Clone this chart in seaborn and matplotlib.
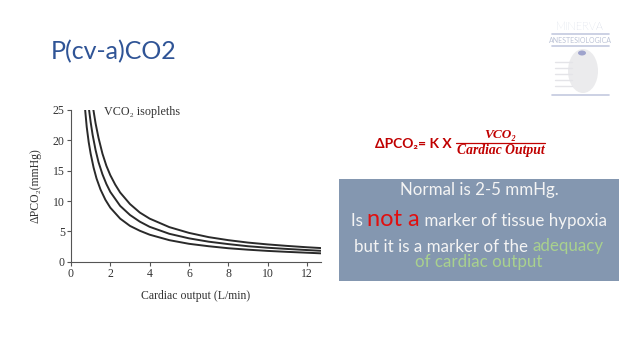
import matplotlib
matplotlib.use("Agg")
import matplotlib.pyplot as plt
import matplotlib.patches as mpatches
from matplotlib.lines import Line2D
import pandas as pd
import seaborn as sns

# VCO2 isopleths (cardiac output L/min -> delta PCO2 mmHg)
low_x = [0.72, 0.8, 0.9, 1.0, 1.15, 1.3, 1.5, 1.75, 2.0, 2.5, 3.0, 3.5, 4.0,
         5.0, 6.0, 7.0, 8.0, 9.0, 10.0, 11.0, 12.0, 12.7]
low_y = [25, 22.2, 19.7, 17.8, 15.5, 13.7, 11.9, 10.2, 8.9, 7.1, 5.9, 5.1, 4.45,
         3.55, 2.95, 2.55, 2.22, 1.98, 1.78, 1.62, 1.48, 1.38]
mid_x = [0.92, 1.0, 1.1, 1.25, 1.4, 1.6, 1.8, 2.0, 2.5, 3.0, 3.5, 4.0,
         5.0, 6.0, 7.0, 8.0, 9.0, 10.0, 11.0, 12.0, 12.7]
mid_y = [25, 23, 20.9, 18.4, 16.4, 14.4, 12.8, 11.5, 9.2, 7.7, 6.6, 5.75,
         4.6, 3.85, 3.3, 2.9, 2.55, 2.3, 2.1, 1.92, 1.8]
high_x = [1.14, 1.25, 1.4, 1.6, 1.8, 2.0, 2.25, 2.5, 3.0, 3.5, 4.0,
          5.0, 6.0, 7.0, 8.0, 9.0, 10.0, 11.0, 12.0, 12.7]
high_y = [25, 22.8, 20.4, 17.8, 15.8, 14.25, 12.7, 11.4, 9.5, 8.1, 7.1,
          5.7, 4.75, 4.05, 3.55, 3.15, 2.85, 2.6, 2.38, 2.25]

x_ticks = [0, 2, 4, 6, 8, 10, 12]
y_ticks = [0, 5, 10, 15, 20, 25]

W, H = 638, 359
SANS = ["Lato", "DejaVu Sans"]
SERIF = ["Liberation Serif", "DejaVu Serif"]
RED = "#C00000"


def fx(x):
    return x / W


def fy(y):
    return 1 - y / H


df = pd.concat([
    pd.DataFrame({"co": low_x, "dpco2": low_y, "curve": "low"}),
    pd.DataFrame({"co": mid_x, "dpco2": mid_y, "curve": "mid"}),
    pd.DataFrame({"co": high_x, "dpco2": high_y, "curve": "high"}),
])

sns.set_style("ticks")
fig = plt.figure(figsize=(6.38, 3.59), dpi=100)
fig.patch.set_facecolor("white")

# chart
ax = fig.add_axes([fx(71), fy(261.7), fx(320.7) - fx(71), (261.7 - 110) / H])
sns.lineplot(data=df, x="co", y="dpco2", hue="curve", estimator=None, sort=False,
             palette=["#2a2a2a"] * 3, linewidth=1.4, legend=False, ax=ax)
ax.set_xlim(0, 12.7)
ax.set_ylim(0, 25)
ax.set_xticks(x_ticks)
ax.set_yticks(y_ticks)
sns.despine(ax=ax)
for s in ["left", "bottom"]:
    ax.spines[s].set_color("#555555")
    ax.spines[s].set_linewidth(0.8)
ax.tick_params(length=3, width=0.8, color="#555555", labelsize=8.5, pad=1.5,
               labelcolor="#333333")
for lab in ax.get_xticklabels() + ax.get_yticklabels():
    lab.set_family(SERIF)
ax.set_xlabel("Cardiac output (L/min)", family=SERIF, fontsize=8.5,
              color="#333333", labelpad=7)
ax.set_ylabel("ΔPCO₂(mmHg)", family=SERIF, fontsize=8.5, color="#333333",
              labelpad=8)
ax.text(1.68, 24.6, "VCO₂ isopleths", family=SERIF, fontsize=8.7,
        color="#333333", va="center", ha="left")

# title
fig.text(fx(51), fy(59), "P(cv-a)CO2", family=SANS, fontsize=18,
         color="#2F5496", va="baseline", ha="left")

# formula
fig.text(fx(375), fy(148), "ΔPCO₂= K X", family=SANS, fontsize=10,
         fontweight="bold", color=RED, va="baseline", ha="left")
fig.text(fx(500), fy(138), "VCO₂", family=SERIF, fontsize=9.5,
         fontweight="bold", style="italic", color=RED, va="baseline",
         ha="center")
fig.text(fx(500.5), fy(154), "Cardiac Output", family=SERIF, fontsize=9.8,
         fontweight="bold", style="italic", color=RED, va="baseline",
         ha="center")
fig.add_artist(Line2D([fx(456), fx(545)], [fy(142.5), fy(142.5)],
                      color=RED, lw=0.9, transform=fig.transFigure))

# grey box
box = mpatches.Rectangle((fx(339), fy(281)), fx(619) - fx(339),
                         (281 - 179) / H, transform=fig.transFigure,
                         facecolor="#8497B0", edgecolor="none", zorder=0)
fig.add_artist(box)

WHITE = "#F4F4F4"
GREEN = "#A9D18E"
lines = [
    (195, [("Normal is 2-5 mmHg.", 12.2, WHITE)]),
    (226, [("Is ", 12.2, WHITE), ("not a", 17, "#E01010"),
           (" marker of tissue hypoxia", 12.2, WHITE)]),
    (251.5, [("but it is a marker of the ", 12.2, WHITE),
             ("adequacy", 12.2, GREEN)]),
    (267, [("of cardiac output", 12.2, GREEN)]),
]
renderer = fig.canvas.get_renderer()
for base, pieces in lines:
    objs = [fig.text(0, fy(base), s, family=SANS, fontsize=sz, color=c,
                     va="baseline", ha="left") for s, sz, c in pieces]
    widths = [o.get_window_extent(renderer).width for o in objs]
    x0 = 479 - sum(widths) / 2
    for o, w in zip(objs, widths):
        o.set_x(fx(x0))
        x0 += w

# journal cover thumbnail (faint)
fig.text(fx(580), fy(30), "MINERVA", family=SANS, fontsize=8, color="#B0B9D0",
         ha="center", va="baseline", fontweight="light")
fig.text(fx(580), fy(43), "ANESTESIOLOGICA", family=SANS, fontsize=5,
         color="#BCC3D6", ha="center", va="baseline")
for yy in [34, 46, 95]:
    fig.add_artist(Line2D([fx(552), fx(609)], [fy(yy), fy(yy)], color="#C3CADF",
                          lw=1.2, transform=fig.transFigure))
fig.add_artist(mpatches.Ellipse((fx(583), fy(71)), 30 / W, 44 / H,
                                transform=fig.transFigure, facecolor="#EBEBED",
                                edgecolor="none"))
fig.add_artist(mpatches.Ellipse((fx(582), fy(53)), 8 / W, 5 / H,
                                transform=fig.transFigure, facecolor="#9EA3CC",
                                edgecolor="none"))
for yy in [62, 68, 74, 80, 86]:
    fig.add_artist(Line2D([fx(555), fx(572)], [fy(yy), fy(yy)], color="#E4E4E8",
                          lw=1, transform=fig.transFigure))

fig.savefig("out.png", dpi=100)
